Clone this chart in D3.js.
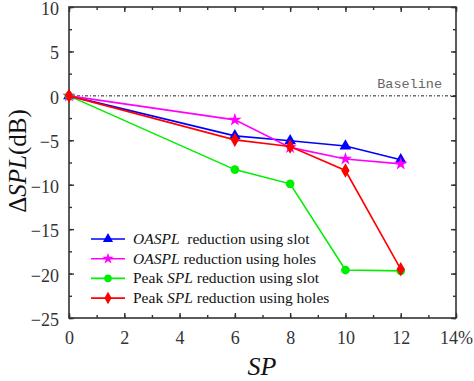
<!DOCTYPE html>
<html>
<head>
<meta charset="utf-8">
<script src="https://cdn.jsdelivr.net/npm/d3@7"></script>
<style>
  body { margin: 0; background: #fff; }
</style>
</head>
<body>
<svg id="chart" width="474" height="381" font-family="Liberation Serif, Times New Roman, serif"></svg>
<script>
// data
var sp = [0, 6, 8, 10, 12];
var oasplSlot  = [0, -4.5, -5.05, -5.65, -7.2];
var oasplHoles = [0, -2.7, -5.8, -7.1, -7.65];
var peakSlot   = [0, -8.3, -9.9, -19.6, -19.7];
var peakHoles  = [0, -4.95, -5.7, -8.4, -19.5];
var xTicks = [0, 2, 4, 6, 8, 10, 12, 14];
var yTicks = [10, 5, 0, -5, -10, -15, -20, -25];

var series = [
  { pre: "", it: "OASPL", post: "  reduction using slot", values: oasplSlot, color: "#0000ff", sym: d3.symbolTriangle },
  { pre: "", it: "OASPL", post: " reduction using holes", values: oasplHoles, color: "#ff00ff", sym: d3.symbolStar },
  { pre: "Peak ", it: "SPL", post: " reduction using slot", values: peakSlot, color: "#00ee00", sym: d3.symbolCircle },
  { pre: "Peak ", it: "SPL", post: " reduction using holes", values: peakHoles, color: "#ff0000", sym: d3.symbolDiamond }
];

var svg = d3.select("#chart");
var pLeft = 69, pRight = 456, pTop = 7, pBottom = 318;

var x = d3.scaleLinear().domain([0, 14]).range([pLeft, pRight]);
var y = d3.scaleLinear().domain([-25, 10]).range([pBottom, pTop]);

var axisColor = "#333";
var serif = "'Liberation Serif', 'Times New Roman', serif";

// frame
svg.append("rect")
  .attr("x", pLeft).attr("y", pTop)
  .attr("width", pRight - pLeft).attr("height", pBottom - pTop)
  .attr("fill", "none").attr("stroke", axisColor).attr("stroke-width", 1.6);

// ticks, all inward
function ticks(g) {
  g.select(".domain").remove();
  g.selectAll("line").attr("stroke", axisColor).attr("stroke-width", 1.4);
  g.selectAll("text").style("font-family", serif).style("font-size", "18px").attr("fill", "#333");
}
var xMinor = d3.range(0, 14.01, 1);
var yMinor = d3.range(-25, 10.01, 2.5);

svg.append("g").attr("transform", "translate(0," + pBottom + ")")
  .call(d3.axisBottom(x).tickValues(xTicks).tickSize(-5).tickPadding(13)
    .tickFormat(function(d) { return d == 14 ? "14%" : d; }))
  .call(ticks);
svg.append("g").attr("transform", "translate(0," + pBottom + ")")
  .call(d3.axisBottom(x).tickValues(xMinor).tickSize(-3).tickFormat(""))
  .call(ticks);
svg.append("g").attr("transform", "translate(0," + pTop + ")")
  .call(d3.axisTop(x).tickValues(xTicks).tickSize(-5).tickFormat(""))
  .call(ticks);
svg.append("g").attr("transform", "translate(0," + pTop + ")")
  .call(d3.axisTop(x).tickValues(xMinor).tickSize(-3).tickFormat(""))
  .call(ticks);

svg.append("g").attr("transform", "translate(" + pLeft + ",0)")
  .call(d3.axisLeft(y).tickValues(yTicks).tickSize(-5).tickPadding(10)
    .tickFormat(function(d) { return d < 0 ? "\u2212" + (-d) : d; }))
  .call(ticks)
  .selectAll("text").attr("dy", "0.42em");
svg.append("g").attr("transform", "translate(" + pLeft + ",0)")
  .call(d3.axisLeft(y).tickValues(yMinor).tickSize(-3).tickFormat(""))
  .call(ticks);
svg.append("g").attr("transform", "translate(" + pRight + ",0)")
  .call(d3.axisRight(y).tickValues(yTicks).tickSize(-5).tickFormat(""))
  .call(ticks);
svg.append("g").attr("transform", "translate(" + pRight + ",0)")
  .call(d3.axisRight(y).tickValues(yMinor).tickSize(-3).tickFormat(""))
  .call(ticks);

// baseline
svg.append("line")
  .attr("x1", pLeft).attr("x2", pRight)
  .attr("y1", y(0)).attr("y2", y(0))
  .attr("stroke", "#222").attr("stroke-width", 1)
  .attr("stroke-dasharray", "3,2,1,2");
svg.append("text")
  .attr("x", pRight - 14).attr("y", y(0) - 8)
  .attr("text-anchor", "end")
  .attr("font-family", "Liberation Mono").attr("font-size", 13.5)
  .attr("fill", "#666")
  .text("Baseline");

// lines and markers
var line = d3.line()
  .x(function(d, i) { return x(sp[i]); })
  .y(function(d) { return y(d); });

series.forEach(function(s) {
  svg.append("path")
    .attr("d", line(s.values))
    .attr("fill", "none")
    .attr("stroke", s.color)
    .attr("stroke-width", 1.6);
  svg.selectAll(null).data(s.values).enter().append("path")
    .attr("transform", function(d, i) { return "translate(" + x(sp[i]) + "," + y(d) + ")"; })
    .attr("d", d3.symbol().type(s.sym).size(s.sym == d3.symbolStar ? 55 : 60))
    .attr("fill", s.color);
});

// legend
var legend = svg.append("g");
series.forEach(function(s, i) {
  var ly = 239 + i * 19.7;
  legend.append("line")
    .attr("x1", 91).attr("x2", 125).attr("y1", ly).attr("y2", ly)
    .attr("stroke", s.color).attr("stroke-width", 1.6);
  legend.append("path")
    .attr("transform", "translate(108," + ly + ")")
    .attr("d", d3.symbol().type(s.sym).size(s.sym == d3.symbolStar ? 40 : 45))
    .attr("fill", s.color);
  var t = legend.append("text")
    .attr("x", 133).attr("y", ly + 5)
    .attr("font-size", 15.5).attr("fill", "#111")
    .attr("xml:space", "preserve");
  t.append("tspan").text(s.pre);
  t.append("tspan").attr("font-style", "italic").text(s.it);
  t.append("tspan").text(s.post);
});

// axis titles
var yl = svg.append("text")
  .attr("transform", "translate(26,161) rotate(-90)")
  .attr("text-anchor", "middle")
  .attr("font-size", 25).attr("fill", "#111");
yl.append("tspan").text("\u0394");
yl.append("tspan").attr("font-style", "italic").text("SPL");
yl.append("tspan").text("(dB)");

svg.append("text")
  .attr("x", 262).attr("y", 375)
  .attr("text-anchor", "middle")
  .attr("font-size", 26).attr("font-style", "italic").attr("fill", "#111")
  .text("SP");
</script>
</body>
</html>
